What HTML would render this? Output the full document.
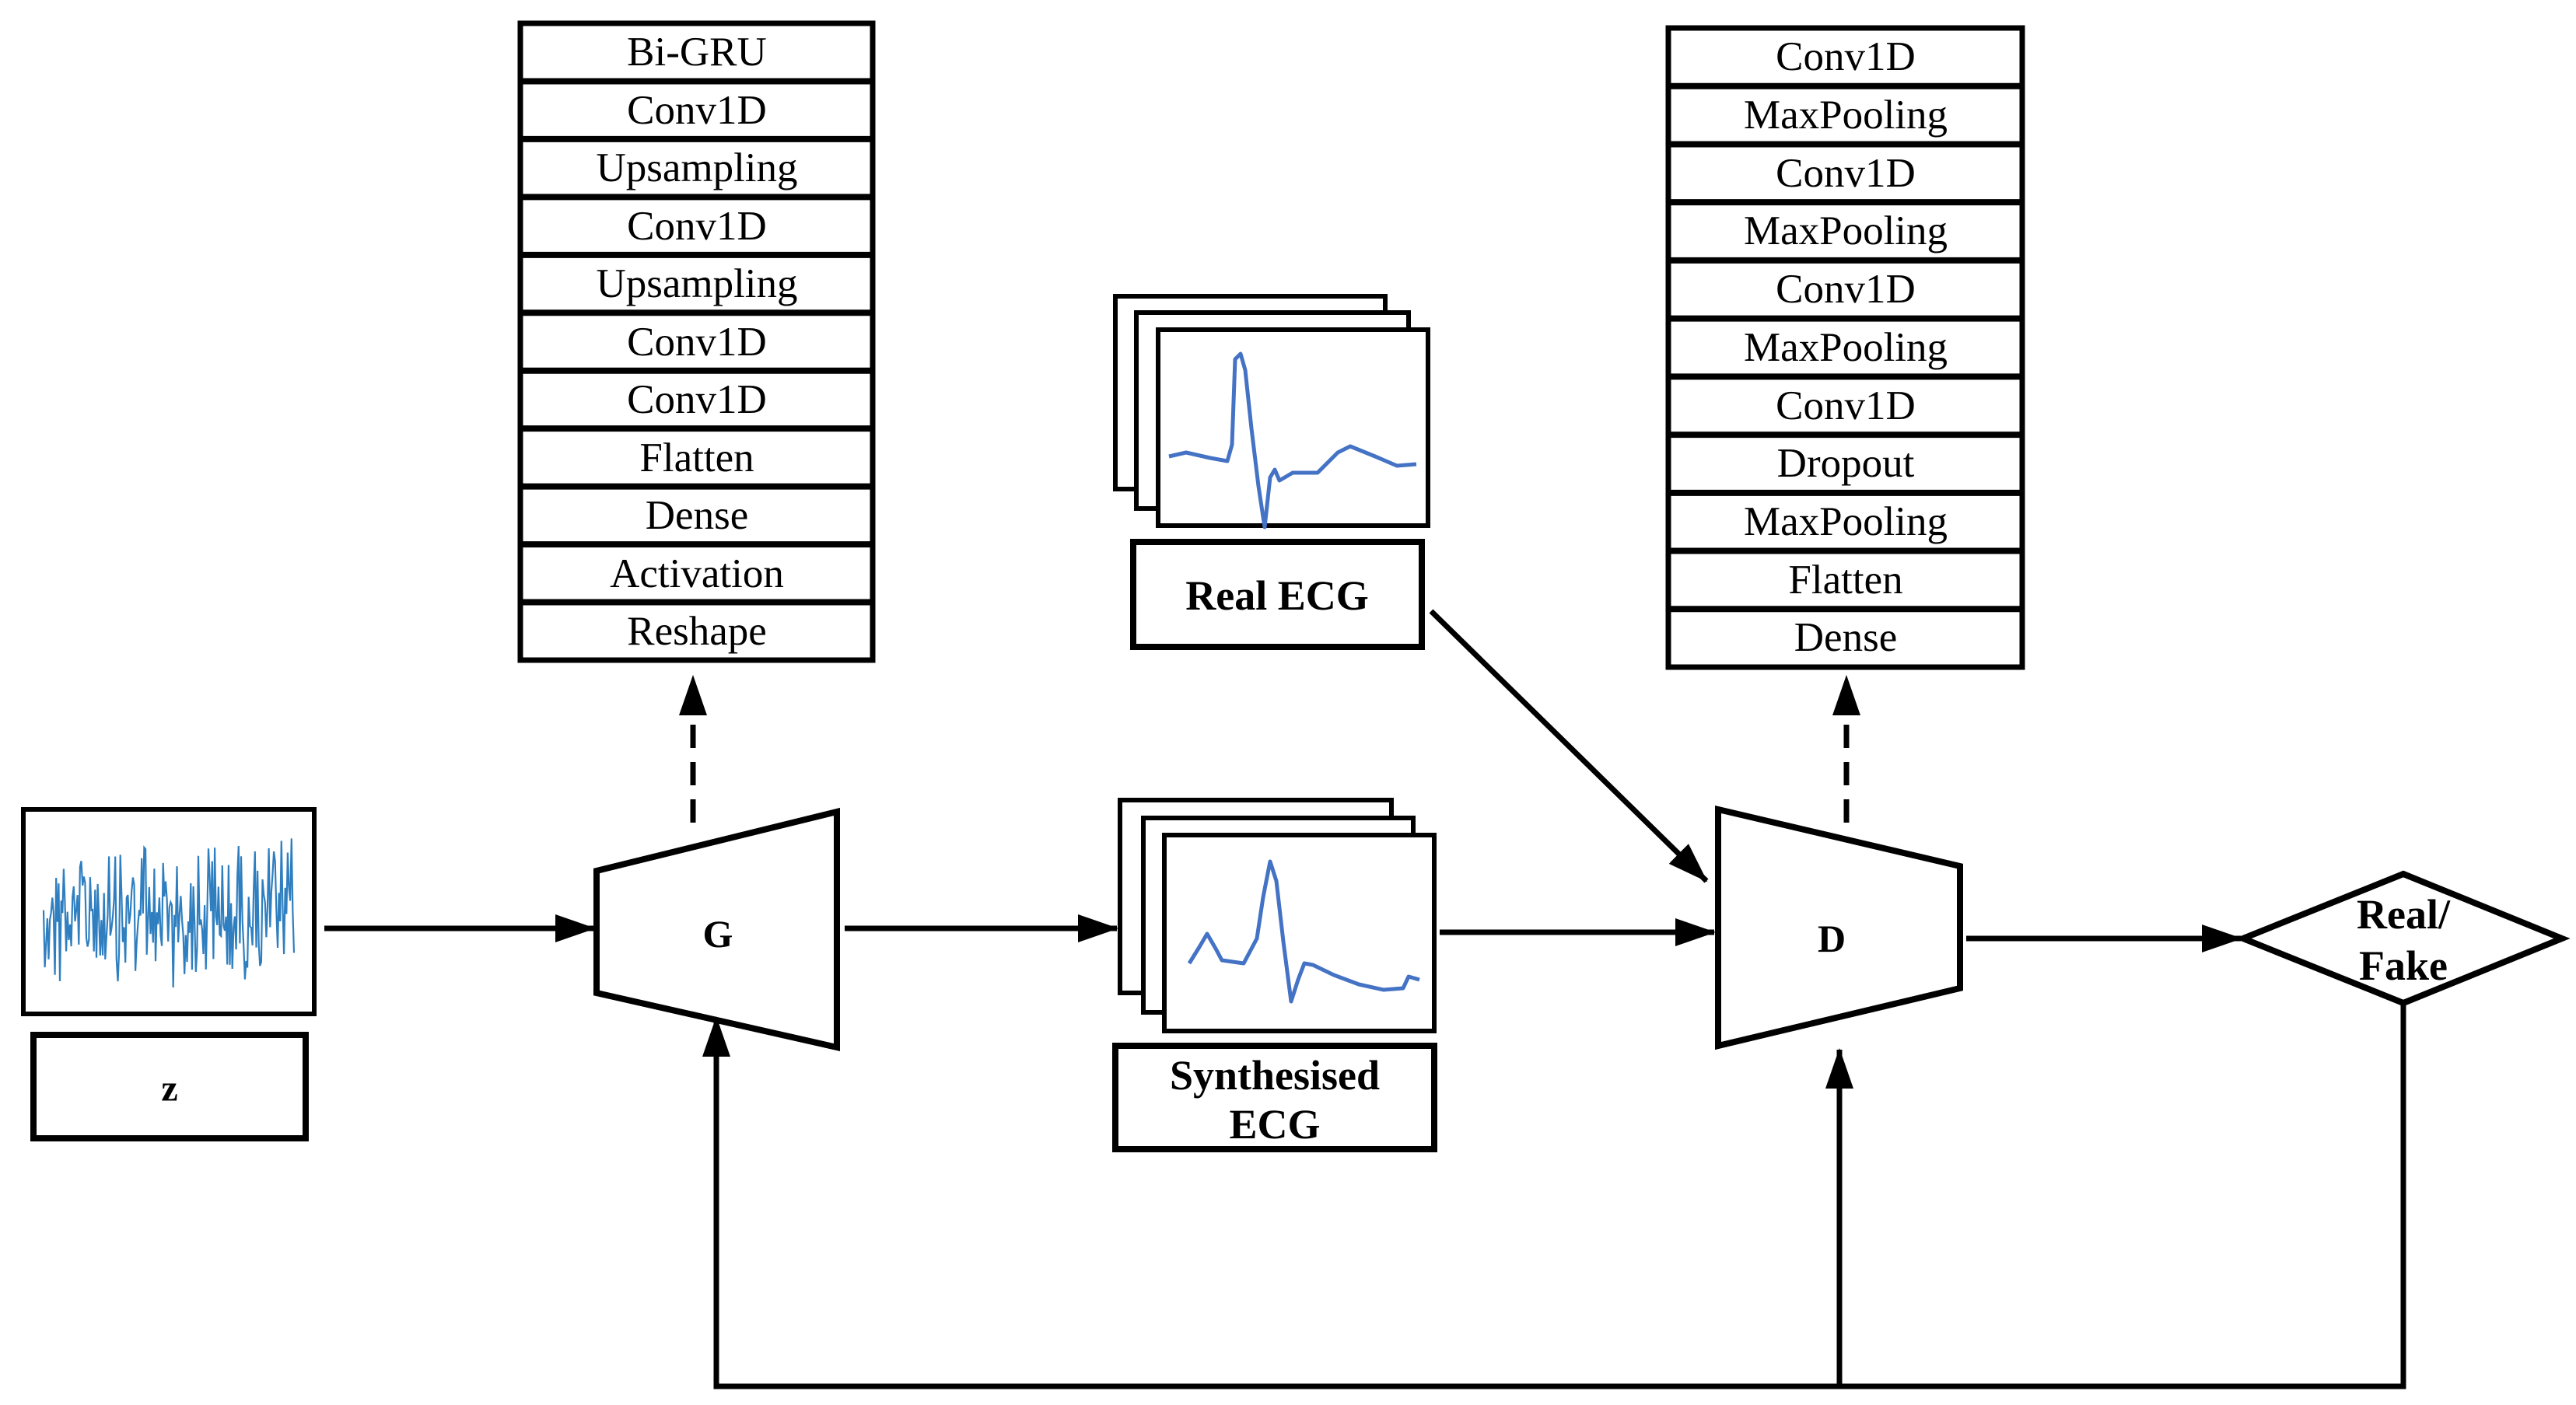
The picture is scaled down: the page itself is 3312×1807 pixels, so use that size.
<!DOCTYPE html>
<html><head><meta charset="utf-8">
<style>
html,body{margin:0;padding:0;background:#fff;}
svg{display:block;}
.t{font-family:"Liberation Serif",serif;font-size:53px;text-anchor:middle;dominant-baseline:central;fill:#000;}
.b{font-family:"Liberation Serif",serif;font-weight:bold;text-anchor:middle;dominant-baseline:central;fill:#000;}
</style></head><body>
<svg id="s" width="3312" height="1807" viewBox="0 0 3312 1807" xmlns="http://www.w3.org/2000/svg">
<defs>
<marker id="ah" markerUnits="userSpaceOnUse" markerWidth="52" markerHeight="36" refX="50" refY="18" orient="auto">
<path d="M0,0 L52,18 L0,36 Z" fill="#000"/>
</marker>
</defs>
<g fill="none" stroke="#000" stroke-width="7">
<rect x="669" y="30" width="453" height="819"/>
<rect x="2145" y="36" width="455" height="822"/>
</g>
<g id="gl" stroke="#000" stroke-width="8"></g>

<g class="t">
<text x="896" y="67">Bi-GRU</text>
<text x="896" y="142">Conv1D</text>
<text x="896" y="216">Upsampling</text>
<text x="896" y="291">Conv1D</text>
<text x="896" y="365">Upsampling</text>
<text x="896" y="440">Conv1D</text>
<text x="896" y="514">Conv1D</text>
<text x="896" y="589">Flatten</text>
<text x="896" y="663">Dense</text>
<text x="896" y="738">Activation</text>
<text x="896" y="812">Reshape</text>
</g>
<g class="t">
<text x="2373" y="73">Conv1D</text>
<text x="2373" y="148">MaxPooling</text>
<text x="2373" y="223">Conv1D</text>
<text x="2373" y="297">MaxPooling</text>
<text x="2373" y="372">Conv1D</text>
<text x="2373" y="447">MaxPooling</text>
<text x="2373" y="522">Conv1D</text>
<text x="2373" y="596">Dropout</text>
<text x="2373" y="671">MaxPooling</text>
<text x="2373" y="746">Flatten</text>
<text x="2373" y="820">Dense</text>
</g>

<rect x="30" y="1041" width="374" height="263" fill="#fff" stroke="#000" stroke-width="6"/>
<path id="noise" d="" fill="none" stroke="#2f7fc0" stroke-width="2.2"/>
<rect x="43" y="1331" width="350" height="133" fill="#fff" stroke="#000" stroke-width="8"/>
<text class="b" x="218" y="1400" font-size="48">z</text>

<polygon points="767,1120 1076,1044 1076,1347 767,1277" fill="#fff" stroke="#000" stroke-width="8"/>
<text class="b" x="923" y="1201" font-size="50">G</text>

<polygon points="2209,1041 2520,1114 2520,1271 2209,1345" fill="#fff" stroke="#000" stroke-width="8"/>
<text class="b" x="2355" y="1207" font-size="50">D</text>

<g fill="#fff" stroke="#000" stroke-width="6">
<rect x="1434" y="381" width="347" height="248"/>
<rect x="1461" y="402" width="350" height="252"/>
<rect x="1489" y="424" width="347" height="252"/>
</g>
<polyline points="1503,587 1525,582 1556,589 1578,593 1584,572 1588,462 1595,455 1601,476 1609,551 1618,625 1626,678 1633,614 1639,604 1645,618 1662,608 1694,608 1720,582 1736,574 1768,587 1796,599 1821,597" fill="none" stroke="#4472c4" stroke-width="5" stroke-linejoin="round"/>
<rect x="1457" y="697" width="371" height="135" fill="#fff" stroke="#000" stroke-width="8"/>
<text class="b" x="1642" y="766" font-size="54">Real ECG</text>

<g fill="#fff" stroke="#000" stroke-width="6">
<rect x="1440" y="1029" width="349" height="248"/>
<rect x="1470" y="1052" width="347" height="250"/>
<rect x="1497" y="1074" width="347" height="252"/>
</g>
<polyline points="1529,1239 1542,1218 1552,1201 1563,1220 1571,1235 1599,1239 1616,1207 1624,1154 1633,1108 1641,1133 1650,1211 1660,1288 1669,1260 1677,1239 1688,1241 1715,1254 1747,1266 1779,1273 1804,1271 1811,1256 1825,1260" fill="none" stroke="#4472c4" stroke-width="5" stroke-linejoin="round"/>
<rect x="1434" y="1345" width="410" height="133" fill="#fff" stroke="#000" stroke-width="8"/>
<text class="b" x="1639" y="1383" font-size="54">Synthesised</text>
<text class="b" x="1639" y="1446" font-size="54">ECG</text>

<polygon points="2884,1207 3090,1124 3294,1207 3090,1290" fill="#fff" stroke="#000" stroke-width="8"/>
<text class="b" x="3090" y="1176" font-size="54">Real/</text>
<text class="b" x="3090" y="1242" font-size="54">Fake</text>

<g fill="none" stroke="#000" stroke-width="7">
<line x1="417" y1="1194" x2="764" y2="1194" marker-end="url(#ah)"/>
<line x1="1086" y1="1194" x2="1436" y2="1194" marker-end="url(#ah)"/>
<line x1="1851" y1="1199" x2="2204" y2="1199" marker-end="url(#ah)"/>
<line x1="2528" y1="1207" x2="2881" y2="1207" marker-end="url(#ah)"/>
<line x1="1840" y1="786" x2="2194" y2="1133" marker-end="url(#ah)"/>
<polyline points="3090,1290 3090,1783 921,1783 921,1309" marker-end="url(#ah)"/>
<line x1="2365" y1="1783" x2="2365" y2="1350" marker-end="url(#ah)"/>
<line x1="891" y1="1058" x2="891" y2="870" stroke-dasharray="30,18" marker-end="url(#ah)"/>
<line x1="2374" y1="1058" x2="2374" y2="870" stroke-dasharray="30,18" marker-end="url(#ah)"/>
</g>
</svg>
<script>
(function(){
var ns="http://www.w3.org/2000/svg",g=document.getElementById("gl");
function rows(x1,x2,y0,y1){var h=(y1-y0)/11;for(var i=1;i<11;i++){var l=document.createElementNS(ns,"line");var y=y0+h*i;l.setAttribute("x1",x1);l.setAttribute("x2",x2);l.setAttribute("y1",y);l.setAttribute("y2",y);g.appendChild(l);}}
rows(669,1122,30,849);rows(2145,2600,36,858);
var s=12345;function r(){s=(s*1103515245+12345)%2147483648;return s/2147483648;}
var d="",n=200;
for(var i=0;i<n;i++){var x=56+i*(322/(n-1));var v=(r()+r()-1)*110;var y=1175+v;if(y<1060)y=1060;if(y>1285)y=1285;d+=(i?"L":"M")+x.toFixed(1)+","+y.toFixed(1);}
document.getElementById("noise").setAttribute("d",d);
})();
</script>
</body></html>
